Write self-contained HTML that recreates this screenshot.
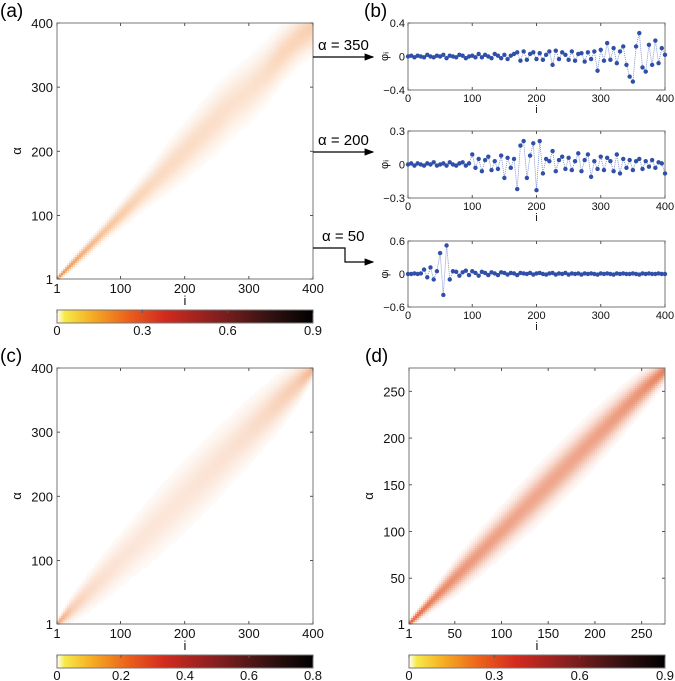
<!DOCTYPE html>
<html><head><meta charset="utf-8"><style>
body{margin:0;background:#fff}
svg{display:block;font-family:"Liberation Sans",sans-serif}
.tk{font-size:13px;fill:#111}
.tks{font-size:11px;fill:#111}
</style></head><body>
<svg id="fig" width="675" height="681" viewBox="0 0 675 681">
<defs>
<linearGradient id="cmap" x1="0" x2="1" y1="0" y2="0">
<stop offset="0" stop-color="#ffffff"/><stop offset="0.03" stop-color="#f6ea4a"/>
<stop offset="0.13" stop-color="#f6b024"/><stop offset="0.27" stop-color="#ec641c"/>
<stop offset="0.42" stop-color="#d22a1e"/><stop offset="0.62" stop-color="#862020"/>
<stop offset="0.82" stop-color="#381313"/><stop offset="1" stop-color="#000"/>
</linearGradient>
<marker id="arr" markerWidth="8" markerHeight="8" refX="7" refY="4" orient="auto"><path d="M0,1 L8,4 L0,7 z" fill="#000"/></marker>
</defs>
</svg>
<script>
// ---- data ----
const heatBinsA = [1,25,50,75,100,125,150,175,200,225,250,275,300,325,350,375,400];
const heatCenterA = [1,25,50,75,100,125,150,175,200,225,250,275,295,320,350,375,395];
const heatWidthA = [3,6,8,10,14,18,22,28,32,35,38,38,38,36,32,30,30];
const heatIntA = [0.85,0.7,0.55,0.45,0.38,0.32,0.28,0.27,0.26,0.25,0.24,0.22,0.22,0.24,0.3,0.32,0.36];
const heatBinsC = [1,25,50,75,100,125,150,175,200,225,250,275,300,325,350,375,400];
const heatCenterC = [1,25,50,75,100,125,150,175,200,225,250,275,300,325,350,375,398];
const heatWidthC = [4,15,22,28,32,36,40,42,44,44,42,40,38,34,30,24,10];
const heatIntC = [0.6,0.32,0.24,0.2,0.18,0.17,0.17,0.17,0.17,0.18,0.19,0.2,0.22,0.25,0.3,0.34,0.5];
const heatBinsD = [1,25,50,75,100,125,150,175,200,225,250,275];
const heatCenterD = [1,25,50,75,100,125,150,175,200,225,250,273];
const heatWidthD = [3,7,12,15,17,19,20,20,19,17,14,9];
const heatIntD = [0.85,0.7,0.6,0.55,0.52,0.5,0.5,0.5,0.52,0.55,0.6,0.7];
const phi350 = [0,0.01,-0.01,0.01,0,-0.01,0.02,0,-0.01,0.01,0,0.02,-0.02,0.01,0,-0.01,0.02,0.01,-0.02,0,0.01,-0.01,0.03,-0.01,0.02,0,-0.02,0.03,0.01,-0.02,0.02,-0.03,0.01,0.03,
0.05,-0.05,0.06,-0.04,0.03,0.05,-0.03,0.04,-0.04,0.02,0.06,-0.1,0.07,-0.03,0.05,0.02,-0.04,0.06,-0.05,0.03,0.04,-0.06,0.05,-0.03,0.06,-0.17,
0.08,-0.05,0.16,-0.04,0.1,-0.08,0.06,0.12,-0.1,-0.24,-0.3,0.12,0.28,-0.13,-0.18,0.14,-0.1,0.19,-0.08,0.1,0.02];
const phi200 = [0,0.01,-0.01,0.01,0,-0.01,0.01,0,0.02,-0.01,0,0.01,-0.01,0.02,0,-0.01,0.01,0.02,-0.01,0.01,
0.09,-0.03,0.05,-0.06,0.04,0.07,-0.05,0.03,-0.04,0.08,-0.12,0.06,-0.03,0.05,
-0.22,0.17,0.21,-0.12,0.08,0.19,-0.23,0.21,-0.08,
0.05,0.03,0.12,-0.06,0.04,0.07,-0.04,0.06,-0.05,0.03,0.1,-0.06,0.04,0.09,-0.11,0.03,-0.04,0.07,-0.05,0.06,0.03,-0.06,0.09,-0.08,0.05,-0.03,0.04,-0.05,0.03,0.05,-0.04,0.03,-0.02,0.04,-0.03,0.02,0.01,-0.08];
const phi50 = [0,0,0.01,0,0.01,0.08,-0.06,0.12,-0.1,0.05,0.38,-0.38,0.52,-0.1,0.05,
0.04,-0.03,0.03,0.06,-0.02,0.05,0.02,-0.03,0.04,0.02,-0.02,0.03,0.01,-0.02,0.03,0.02,-0.01,0.02,0.01,-0.02,
0.02,0.01,0,0.02,-0.01,0.01,0.02,0,-0.01,0.01,0.02,-0.01,0.01,0,0.02,-0.01,0.01,0,0.01,-0.01,
0.01,0,0.01,0,-0.01,0.01,0,0.01,0,-0.01,0.01,0,0.01,0,0,0.01,0,-0.01,0.01,0,0.01,0,0,0.01,0,0];
const ticksA = [1,100,200,300,400];
const ticksD = [1,50,100,150,200,250];
const cbLabelsA = ["0","0.3","0.6","0.9"];
const cbLabelsC = ["0","0.2","0.4","0.6","0.8"];

const NS="http://www.w3.org/2000/svg";
const svg=document.getElementById('fig');
function mk(tag,attrs,parent){const e=document.createElementNS(NS,tag);for(const k in attrs)e.setAttribute(k,attrs[k]);(parent||svg).appendChild(e);return e;}
function txt(x,y,s,cls,anchor,parent){const t=mk('text',{x:x,y:y,class:cls,'text-anchor':anchor||'middle'},parent);t.textContent=s;return t;}
function interp(bins,vals,v){for(let k=0;k<bins.length-1;k++){if(v<=bins[k+1]){const f=(v-bins[k])/(bins[k+1]-bins[k]);return vals[k]+f*(vals[k+1]-vals[k]);}}return vals[vals.length-1];}
function blend(rgb,o){return 'rgb('+rgb.map(c=>Math.round(255+(c-255)*o)).join(',')+')';}

function heatPanel(name,x0,y0,size,max,bins,centers,widths,ints,rgb,ticks){
  const g=mk('g',{});
  
  
  const sx=v=>x0+(v-1)/(max-1)*size, sy=v=>y0+size-(v-1)/(max-1)*size;
  const cell=2, n=Math.round(size/cell), step=(max-1)/n;
  for(let a=0;a<n;a++){const iv=1+(a+0.5)*step;
    const c=interp(bins,centers,iv), w=interp(bins,widths,iv), I=interp(bins,ints,iv);
    for(let b=0;b<n;b++){const av=1+(b+0.5)*step;const d=(av-c)/w;const o=I*Math.exp(-d*d);
      if(o<0.03)continue;
      const r=mk('rect',{x:sx(1)+a*cell,y:sy(1)-(b+1)*cell,width:cell,height:cell,fill:blend(rgb,o)},g);
      
      
    }}
  const fr=mk('rect',{x:x0,y:y0,width:size,height:size,fill:'none',stroke:'#777','stroke-width':1},g);
  
  
  ticks.forEach(t=>{
    mk('line',{x1:sx(t),x2:sx(t),y1:y0+size,y2:y0+size-3,stroke:'#555'},g);
    mk('line',{x1:sx(t),x2:sx(t),y1:y0,y2:y0+3,stroke:'#555'},g);
    mk('line',{x1:x0,x2:x0+3,y1:sy(t),y2:sy(t),stroke:'#555'},g);
    mk('line',{x1:x0+size,x2:x0+size-3,y1:sy(t),y2:sy(t),stroke:'#555'},g);
    const xl=txt(sx(t),y0+size+14,String(t),'tk','middle',g);
    
    
    const yl=txt(x0-4,sy(t)+5,String(t),'tk','end',g);
    
    
  });
  const xt=txt(x0+size/2,y0+size+26,'i','tk','middle',g);
  
  
  const yt=txt(0,0,'α','tk','middle',g);
  yt.setAttribute('transform',`translate(${x0-36},${y0+size/2}) rotate(-90)`);
  
  
}
function colorbar(name,x0,y0,w,labels){
  const g=mk('g',{});
  
  
  mk('rect',{x:x0,y:y0,width:w,height:13,fill:'url(#cmap)',stroke:'#777'},g);
  labels.forEach((l,k)=>{const x=x0+k/(labels.length-1)*w;
    mk('line',{x1:x,x2:x,y1:y0,y2:y0+3,stroke:'#555'},g);
    const t=txt(x,y0+25,l,'tk','middle',g);
    
    });
}
function linePanel(name,x0,y0,w,h,lim,vals,yl){
  const g=mk('g',{});
  
  
  const sx=v=>x0+v/400*w, sy=v=>y0+h/2-v/lim*h/2;
  mk('rect',{x:x0,y:y0,width:w,height:h,fill:'none',stroke:'#777'},g);
  [0,100,200,300,400].forEach(t=>{
    mk('line',{x1:sx(t),x2:sx(t),y1:y0+h,y2:y0+h-3,stroke:'#555'},g);
    mk('line',{x1:sx(t),x2:sx(t),y1:y0,y2:y0+3,stroke:'#555'},g);
    const l=txt(sx(t),y0+h+12,String(t),'tks','middle',g);
    
    });
  yl.forEach((s,k)=>{const v=[lim,0,-lim][k];
    mk('line',{x1:x0,x2:x0+3,y1:sy(v),y2:sy(v),stroke:'#555'},g);
    const l=txt(x0-3,sy(v)+4,s,'tks','end',g);
    
    });
  const xt=txt(x0+w/2,y0+h+23,'i','tks','middle',g);
  
  
  const yt=txt(0,0,'φᵢ','tks','middle',g);
  yt.setAttribute('transform',`translate(${x0-20},${y0+h/2}) rotate(-90)`);
  
  
  const pts=vals.map((v,k)=>sx(k*5).toFixed(1)+','+sy(v).toFixed(1)).join(' ');
  const pl=mk('polyline',{points:pts,fill:'none',stroke:'#6a80c8','stroke-width':0.8,'stroke-dasharray':'1,1'},g);
  
  
  vals.forEach((v,k)=>{const c=mk('circle',{cx:sx(k*5),cy:sy(v),r:2.2,fill:'#2f4fa8'},g);
    
    });
}
function label(x,y,s,name){const t=txt(x,y,s,'','start');t.setAttribute('font-size','19');
  
  }

heatPanel('heatmap-a',57,23,256,400,heatBinsA,heatCenterA,heatWidthA,heatIntA,[239,122,32],ticksA);
colorbar('colorbar-a',57,310,256,cbLabelsA);
heatPanel('heatmap-c',57,368,256,400,heatBinsC,heatCenterC,heatWidthC,heatIntC,[234,106,28],ticksA);
colorbar('colorbar-c',57,655,256,cbLabelsC);
heatPanel('heatmap-d',409,368,256,275,heatBinsD,heatCenterD,heatWidthD,heatIntD,[222,76,24],ticksD);
colorbar('colorbar-d',409,655,256,cbLabelsA);
linePanel('eigvec-350',408,23,257,67,0.4,phi350,['0.4','0','−0.4']);
linePanel('eigvec-200',408,131,257,67,0.3,phi200,['0.3','0','−0.3']);
linePanel('eigvec-50',408,241,257,66,0.6,phi50,['0.6','0','−0.6']);
label(0,17,'(a)','panel-label-a');label(364,17,'(b)','panel-label-b');
label(0,362,'(c)','panel-label-c');label(365,362,'(d)','panel-label-d');
const arrows=[[57,'α = 350',50],[152,'α = 200',145]];
arrows.forEach(a=>{const l=mk('line',{x1:313,y1:a[0],x2:373,y2:a[0],stroke:'#000','stroke-width':1.2,'marker-end':'url(#arr)'});
  
  
  const t=txt(318,a[2],a[1],'','start');t.setAttribute('font-size','15');
  
  });
const p=mk('polyline',{points:'313,248 345,248 345,262 373,262',fill:'none',stroke:'#000','stroke-width':1.2,'marker-end':'url(#arr)'});


const t3=txt(322,241,'α = 50','','start');t3.setAttribute('font-size','15');


</script>
</body></html>
